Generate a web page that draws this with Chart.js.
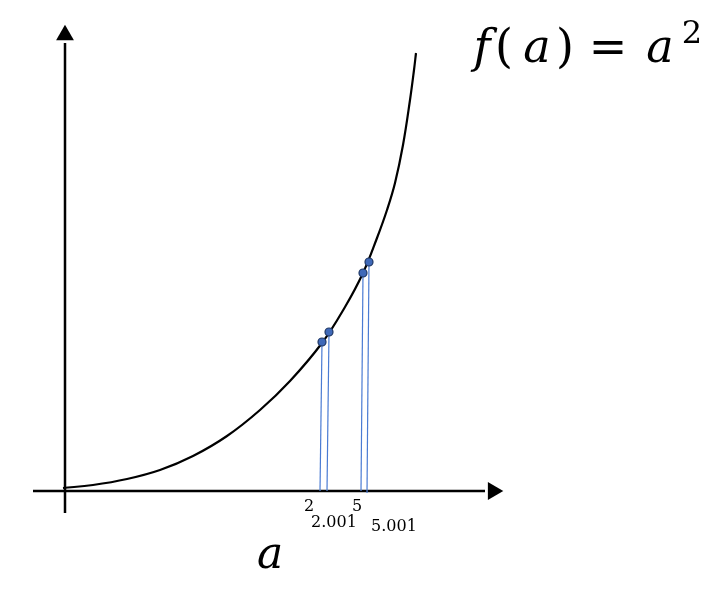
<!DOCTYPE html>
<html lang="en">
<head>
  <meta charset="UTF-8" />
  <title>f(a) = a^2</title>
  <script src="https://cdn.jsdelivr.net/npm/chart.js"></script>
  <style>
    body {
      margin: 0;
      padding: 0;
      background: #fff;
    }

    .chart-container {
      width: 714px;
      height: 596px;
      position: relative;
    }
  </style>
</head>
<body>
  <div class="chart-container">
    <canvas id="curveChart"></canvas>
  </div>

  <script>
    // Curve (x to the right of the y axis, y above the x axis)
    const curveX = [-2, 28, 62, 95, 128, 162, 195, 225, 257, 280, 298, 312, 322, 330, 338, 345, 349, 351];
    const curveY = [3, 6, 12, 21, 35, 55, 81, 110, 148, 184, 218, 253, 281, 308, 346, 391, 421, 438];

    // Marked points on the curve and where their drop lines meet the axis
    const markX = [257, 264, 298, 304];
    const markY = [149, 159, 218, 229];
    const footX = [255, 262, 296, 302];
    const footY = [0, 0, 0, -2];

    // Labels under the axis, one per drop line
    const tickLabels = ['2', '2.001', '5', '5.001'];

    // Axis extents
    const xAxisFrom = -32, xAxisTo = 428;
    const yAxisFrom = -22, yAxisTo = 456;

    const dropLines = markX.map((x, i) => ({
      type: 'line',
      data: [{ x: x, y: markY[i] }, { x: footX[i], y: footY[i] }],
      borderColor: '#4a7bd3',
      borderWidth: 1.2,
      pointRadius: 0,
      order: 3
    }));

    // Text: function name, axis name, tick labels
    const textPlugin = {
      id: 'textPlugin',
      afterDraw(chart) {
        const ctx = chart.ctx;
        const xs = chart.scales.x;
        const ys = chart.scales.y;
        ctx.save();
        ctx.fillStyle = '#000';
        ctx.textBaseline = 'alphabetic';
        ctx.textAlign = 'center';

        // tick labels below the x axis
        const offsets = [[-11, 20], [7, 36], [-4, 20], [27, 40]];
        ctx.font = '16px "DejaVu Serif"';
        tickLabels.forEach((t, i) => {
          const px = xs.getPixelForValue(footX[i]) + offsets[i][0];
          const py = ys.getPixelForValue(0) + offsets[i][1];
          ctx.fillText(t, px, py);
        });

        // axis name
        ctx.font = 'italic 44px "DejaVu Serif"';
        ctx.fillText('a', 270, 568);

        // f(a) = a^2
        const parts = [
          ['f', 482, 'italic 46px "DejaVu Serif"', 62],
          ['(', 504, '46px "DejaVu Serif"', 62],
          ['a', 537, 'italic 46px "DejaVu Serif"', 62],
          [')', 565, '46px "DejaVu Serif"', 62],
          ['=', 608, '46px "DejaVu Serif"', 62],
          ['a', 660, 'italic 46px "DejaVu Serif"', 62],
          ['2', 692, '32px "DejaVu Serif"', 43]
        ];
        parts.forEach(p => {
          ctx.font = p[2];
          ctx.fillText(p[0], p[1], p[3]);
        });
        ctx.restore();
      }
    };

    const ctx = document.getElementById('curveChart').getContext('2d');
    const curveChart = new Chart(ctx, {
      type: 'scatter',
      data: {
        datasets: [
          {
            // x axis
            type: 'line',
            data: [{ x: xAxisFrom, y: 0 }, { x: xAxisTo - 8, y: 0 }],
            borderColor: '#000',
            borderWidth: 2.5,
            pointRadius: 0,
            order: 5
          },
          {
            // y axis
            type: 'line',
            data: [{ x: 0, y: yAxisFrom }, { x: 0, y: yAxisTo - 8 }],
            borderColor: '#000',
            borderWidth: 2.5,
            pointRadius: 0,
            order: 5
          },
          {
            // arrow heads
            data: [{ x: xAxisTo, y: 0 }, { x: 0, y: yAxisTo }],
            pointStyle: 'triangle',
            rotation: [90, 0],
            pointRadius: 10.3,
            backgroundColor: '#000',
            borderColor: '#000',
            borderWidth: 0,
            order: 5
          },
          {
            // the curve
            type: 'line',
            data: curveX.map((x, i) => ({ x: x, y: curveY[i] })),
            borderColor: '#000',
            borderWidth: 2.2,
            pointRadius: 0,
            tension: 0.4,
            order: 2
          },
          ...dropLines,
          {
            // marked points
            data: markX.map((x, i) => ({ x: x, y: markY[i] })),
            pointRadius: 4,
            backgroundColor: '#3f69b8',
            borderColor: '#1f3764',
            borderWidth: 1.2,
            order: 1
          }
        ]
      },
      options: {
        responsive: true,
        maintainAspectRatio: false,
        animation: false,
        layout: { padding: 0, autoPadding: false },
        plugins: {
          legend: { display: false },
          tooltip: { enabled: false }
        },
        scales: {
          x: { type: 'linear', min: -65, max: 649, display: false },
          y: { type: 'linear', min: -105, max: 491, display: false }
        }
      },
      plugins: [textPlugin]
    });
  </script>
</body>
</html>
